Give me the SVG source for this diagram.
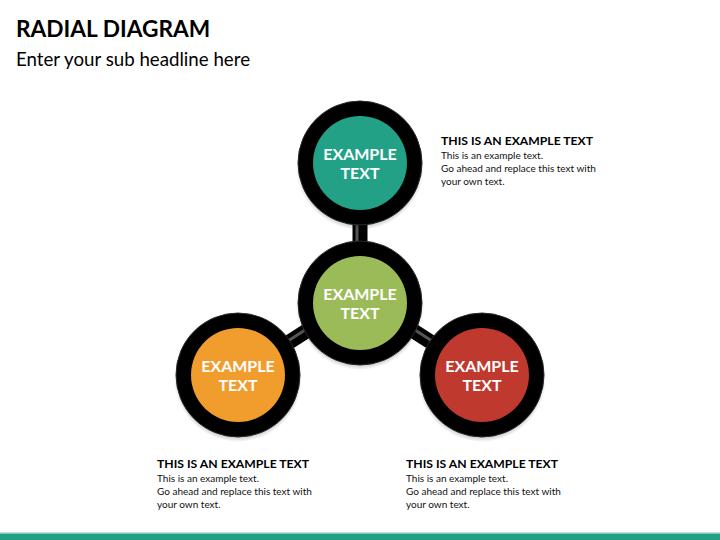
<svg xmlns="http://www.w3.org/2000/svg" width="720" height="540" viewBox="0 0 720 540">
<defs>
<style>
.title{font-family:Lato,"Liberation Sans",sans-serif;font-weight:bold;font-size:22.7px;fill:#000}
.sub{font-family:Lato,"Liberation Sans",sans-serif;font-size:18.7px;fill:#000}
.lbl{font-family:Lato,"Liberation Sans",sans-serif;font-weight:bold;font-size:16px;fill:#fff;text-anchor:middle}
.hd{font-family:Lato,"Liberation Sans",sans-serif;font-weight:bold;font-size:12.2px;fill:#000}
.bd{font-family:Lato,"Liberation Sans",sans-serif;font-size:10px;fill:#111}
.ring{fill:#000;stroke:#2a2a2a;stroke-width:1}
.bar{stroke:#000;stroke-width:15}
.barhi{stroke:#555;stroke-width:3}
</style>
<radialGradient id="sh" cx="50%" cy="50%" r="50%">
<stop offset="90%" stop-color="#000" stop-opacity="0.25"/>
<stop offset="100%" stop-color="#000" stop-opacity="0"/>
</radialGradient>
</defs>
<rect width="720" height="540" fill="#fff"/>
<text class="title" x="16" y="37">RADIAL DIAGRAM</text>
<text class="sub" x="16" y="66">Enter your sub headline here</text>
<g id="connectors">
<line class="bar" x1="360" y1="215" x2="360" y2="250"/>
<line class="bar" x1="308" y1="330" x2="280" y2="348"/>
<line class="bar" x1="412" y1="330" x2="440" y2="348"/>
<line class="barhi" x1="357" y1="225" x2="357" y2="241"/>
<line class="barhi" x1="288" y1="341" x2="305" y2="330"/>
<line class="barhi" x1="415" y1="330" x2="432" y2="341"/>
</g>
<g id="node-top">
<circle cx="360" cy="166" r="64" fill="url(#sh)"/>
<circle class="ring" cx="360" cy="163" r="62"/>
<circle cx="360" cy="163" r="47" fill="#22A187"/>
<text class="lbl" x="360" y="160">EXAMPLE</text>
<text class="lbl" x="360" y="179">TEXT</text>
</g>
<g id="node-center">
<circle cx="360" cy="306" r="64" fill="url(#sh)"/>
<circle class="ring" cx="360" cy="303" r="62"/>
<circle cx="360" cy="303" r="47" fill="#9BBB59"/>
<text class="lbl" x="360" y="300">EXAMPLE</text>
<text class="lbl" x="360" y="319">TEXT</text>
</g>
<g id="node-left">
<circle cx="238" cy="378" r="64" fill="url(#sh)"/>
<circle class="ring" cx="238" cy="375" r="62"/>
<circle cx="238" cy="375" r="47" fill="#F09D2E"/>
<text class="lbl" x="238" y="372">EXAMPLE</text>
<text class="lbl" x="238" y="391">TEXT</text>
</g>
<g id="node-right">
<circle cx="482" cy="378" r="64" fill="url(#sh)"/>
<circle class="ring" cx="482" cy="375" r="62"/>
<circle cx="482" cy="375" r="47" fill="#C0392F"/>
<text class="lbl" x="482" y="372">EXAMPLE</text>
<text class="lbl" x="482" y="391">TEXT</text>
</g>
<g id="text-top-right">
<text class="hd" x="441" y="145">THIS IS AN EXAMPLE TEXT</text>
<text class="bd" x="441" y="159">This is an example text.</text>
<text class="bd" x="441" y="172">Go ahead and replace this text with</text>
<text class="bd" x="441" y="185">your own text.</text>
</g>
<g id="text-bottom-left">
<text class="hd" x="157" y="468">THIS IS AN EXAMPLE TEXT</text>
<text class="bd" x="157" y="482">This is an example text.</text>
<text class="bd" x="157" y="495">Go ahead and replace this text with</text>
<text class="bd" x="157" y="508">your own text.</text>
</g>
<g id="text-bottom-right">
<text class="hd" x="406" y="468">THIS IS AN EXAMPLE TEXT</text>
<text class="bd" x="406" y="482">This is an example text.</text>
<text class="bd" x="406" y="495">Go ahead and replace this text with</text>
<text class="bd" x="406" y="508">your own text.</text>
</g>
<rect x="0" y="532" width="720" height="1.5" fill="#bfe3d9"/>
<rect x="0" y="533.5" width="720" height="6.5" fill="#21A183"/>
</svg>
